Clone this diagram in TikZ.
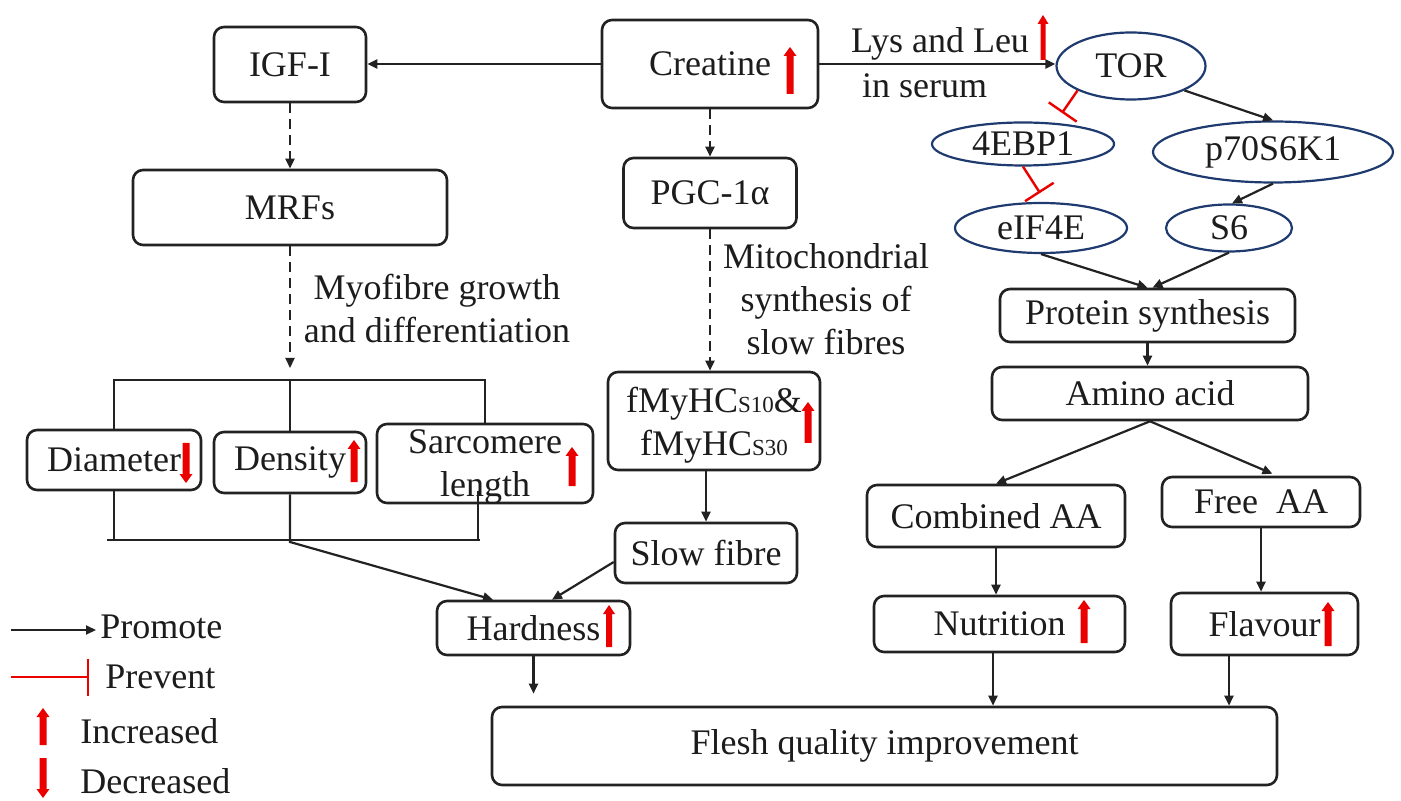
\documentclass[tikz,border=0pt]{standalone}
\usepackage{fontspec}
\setmainfont{Liberation Serif}
\usetikzlibrary{arrows.meta,shapes.geometric,calc}
\definecolor{lc}{RGB}{34,34,34}
\definecolor{tc}{RGB}{28,28,28}
\definecolor{ec}{RGB}{30,58,110}
\definecolor{rc}{RGB}{235,0,0}
\newcommand\myfs{\fontsize{18}{21.5}\selectfont}
\newcommand\mysub{\fontsize{11.5}{12}\selectfont}
\newcommand\redup[4]{\fill[rc] (#1-#4,#3) -- (#1+#4,#3) -- (#1+#4,#2+9) -- (#1+#4+3,#2+9) -- (#1,#2) -- (#1-#4-3,#2+9) -- (#1-#4,#2+9) -- cycle;}
\newcommand\reddown[4]{\fill[rc] (#1-#4,#3) -- (#1+#4,#3) -- (#1+#4,#2-9) -- (#1+#4+3,#2-9) -- (#1,#2) -- (#1-#4-3,#2-9) -- (#1-#4,#2-9) -- cycle;}
\begin{document}
\begin{tikzpicture}[x=0.5pt,y=-0.5pt,
  box/.style={draw=lc, line width=1.3pt, rounded corners=5pt, inner sep=0pt, text=tc, font=\myfs, align=center},
  ell/.style={ellipse, draw=ec, line width=1.1pt, inner sep=0pt, text=tc, font=\myfs},
  lbl/.style={text=tc, font=\myfs, inner sep=0pt},
  ln/.style={draw=lc, line width=1.1pt},
  arr/.style={ln, -{Triangle[length=5pt,width=4.5pt]}},
  darr/.style={arr, dash pattern=on 5pt off 3pt},
  inh/.style={draw=rc, line width=1.2pt, -{Bar[width=17pt, line width=1.2pt]}}
]
\useasboundingbox (0,0) rectangle (1401,801);

% boxes
\node[box, minimum width=76pt, minimum height=37.5pt] (igf) at (290,64.5) {IGF-I};
\node[box, minimum width=157pt, minimum height=37.5pt] (mrf) at (290,207.5) {MRFs};
\node[box, minimum width=108pt, minimum height=44pt] (cre) at (710,64) {Creatine};
\node[box, minimum width=86.5pt, minimum height=35pt] (pgc) at (710,193) {PGC-1α};
\node[box, minimum width=106pt, minimum height=49pt, text depth=0pt] (fmy) at (714,421) {fMyHC{\mysub S10}\&\\fMyHC{\mysub S30}};
\node[box, minimum width=91pt, minimum height=30pt] (sf) at (706,553) {Slow fibre};
\node[box, minimum width=87pt, minimum height=30pt] (dia) at (114,460) {Diameter};
\node[box, minimum width=76pt, minimum height=30.5pt] (den) at (290,462.5) {Density};
\node[box, minimum width=108pt, minimum height=39.5pt, text depth=0pt] (sar) at (485,463.5) {Sarcomere\\length};
\node[box, minimum width=96.5pt, minimum height=27pt] (hard) at (533.5,628) {Hardness};
\node[box, minimum width=392.5pt, minimum height=39pt] (fl) at (884.5,746) {Flesh quality improvement};
\node[box, minimum width=147.5pt, minimum height=26.5pt] (ps) at (1147.5,315.5) {Protein synthesis};
\node[box, minimum width=158pt, minimum height=26.5pt] (aa) at (1150,393.5) {Amino acid};
\node[box, minimum width=129pt, minimum height=31pt] (cb) at (996,516) {Combined AA};
\node[box, minimum width=99pt, minimum height=25pt] (fa) at (1261,502) {Free~~AA};
\node[box, minimum width=125.5pt, minimum height=28pt] (nut) at (999.5,624) {Nutrition};
\node[box, minimum width=93.5pt, minimum height=31pt] (fla) at (1264.5,624) {Flavour};

% ellipses
\node[ell, minimum width=74.5pt, minimum height=33.5pt] (tor) at (1131,66) {TOR};
\node[ell, minimum width=91pt, minimum height=21.5pt] (e4b) at (1023,144) {4EBP1};
\node[ell, minimum width=86pt, minimum height=25pt] (eif) at (1041,228) {eIF4E};
\node[ell, minimum width=120pt, minimum height=30.5pt] (p70) at (1273,152) {p70S6K1};
\node[ell, minimum width=63pt, minimum height=23.5pt] (s6) at (1229,228) {S6};

% labels
\node[lbl, anchor=base] (lys) at (940,53) {Lys and Leu};
\node[lbl, anchor=base] (ser) at (924.5,98) {in serum};
\node[lbl, anchor=base] (my1) at (437,300) {Myofibre growth};
\node[lbl, anchor=base] (my2) at (437,343) {and differentiation};
\node[lbl, anchor=base] (mi1) at (826,269) {Mitochondrial};
\node[lbl, anchor=base] (mi2) at (826,312) {synthesis of};
\node[lbl, anchor=base] (mi3) at (826,355) {slow fibres};

% coordinates
\coordinate (bt) at (290,380);
\coordinate (bb) at (290,542);
\coordinate (bl) at (107,540);
\coordinate (br) at (480,540);
\coordinate (i1) at (1062,113);
\coordinate (i2) at (1040,193);

% connectors
\draw[arr] (cre.west) -- (cre.west -| igf.east);
\draw[arr] (cre.east) -- (cre.east -| tor.west);
\draw[darr] (igf.south) -- (igf.south |- mrf.north);
\draw[darr] (mrf.south) -- ([yshift=6pt]bt);
\draw[darr] (cre.south) -- (cre.south |- pgc.north);
\draw[darr] (pgc.south) -- (pgc.south |- fmy.north);
\draw[arr] (sf.north |- fmy.south) -- (sf.north);
\draw[ln] (dia.north) -- (dia.north |- bt) -- (sar.north |- bt) -- (sar.north);
\draw[ln] (bt) -- (den.north);
\draw[ln] (bl) -- (br);
\draw[ln] (dia.south) -- (dia.south |- bl);
\draw[ln] ([xshift=-3.5pt,yshift=6.5pt]sar.south) -- ([xshift=-3.5pt]sar.south |- br);
\draw[arr] (den.south) -- (bb) -- ([xshift=-20.25pt]hard.north);
\draw[arr] ([yshift=-4.5pt]sf.west) -- ([xshift=9.25pt]hard.north);
\draw[arr, shorten >=6pt] (hard.south) -- (hard.south |- fl.north);
\draw[arr] ([xshift=-3.25pt]nut.south) -- ([xshift=-3.25pt]nut.south |- fl.north);
\draw[arr] ([xshift=-17.75pt]fla.south) -- ([xshift=-17.75pt]fla.south |- fl.north);
\draw[arr] (cb.south) -- (cb.south |- nut.north);
\draw[arr] (fa.south) -- (fa.south |- fla.north);
\draw[arr] (aa.south) -- (cb.north);
\draw[arr, shorten >=2.5pt] (aa.south) -- ([xshift=8pt]fa.north);
\draw[arr] (ps.south) -- (ps.south |- aa.north);
\draw[arr] (eif.south) -- (ps.north);
\draw[arr] (s6.south) -- ([xshift=2.5pt]ps.north);
\draw[arr] (tor.south east) -- (p70.north);
\draw[arr] (p70.south) -- ([xshift=1.5pt]s6.north);
\draw[inh] (tor.south west) -- (i1);
\draw[inh] (e4b.south) -- (i2);

% red indicator arrows
\redup{790}{47}{94}{3.5}
\redup{1043}{15}{60}{2.5}
\reddown{186}{483}{443}{3.5}
\redup{354}{440}{482}{3.5}
\redup{572}{447}{486}{3.5}
\redup{808}{402}{443}{3.5}
\redup{609}{605}{647}{3}
\redup{1084}{600}{643}{3.5}
\redup{1328}{602}{646}{3.5}

% legend
\coordinate (lg1a) at (11,630);
\coordinate (lg1b) at (96,630);
\coordinate (lg2a) at (11,677);
\coordinate (lg2b) at (89,677);
\draw[arr] (lg1a) -- (lg1b);
\draw[draw=rc, line width=1.2pt, -{Bar[width=18.5pt, line width=1.2pt]}] (lg2a) -- (lg2b);
\redup{43}{708}{745}{3.5}
\reddown{43}{798}{758}{3.5}
\node[lbl, anchor=base west] (lgp) at (100,638) {Promote};
\node[lbl, anchor=base west] (lgv) at (105,688) {Prevent};
\node[lbl, anchor=base west] (lgi) at (80,743) {Increased};
\node[lbl, anchor=base west] (lgd) at (80,793) {Decreased};
\end{tikzpicture}
\end{document}
